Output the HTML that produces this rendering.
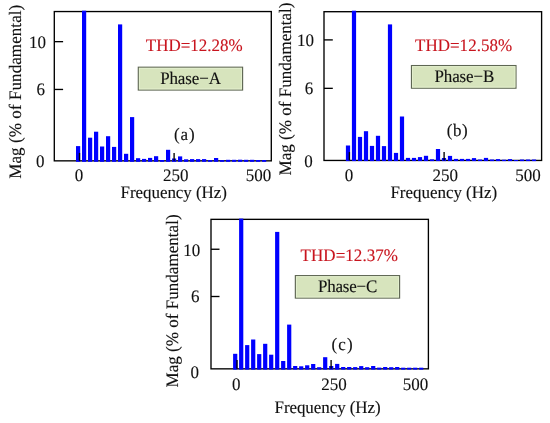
<!DOCTYPE html><html><head><meta charset="utf-8"><style>html,body{margin:0;padding:0;background:#fff;}svg{display:block;}text{font-family:"Liberation Serif", "Times New Roman", serif;font-size:17px;stroke-width:0.12px;text-rendering:geometricPrecision;}</style></head><body>
<svg width="550" height="423" viewBox="0 0 550 423">
<rect x="0" y="0" width="550" height="423" fill="#fff"/>
<rect x="54.3" y="11.55" width="217.00" height="149.30" fill="none" stroke="#000" stroke-width="1.35"/>
<rect x="76.00" y="146.10" width="4.2" height="15.70" fill="#0000ff"/>
<rect x="82.00" y="10.70" width="4.2" height="151.10" fill="#0000ff"/>
<rect x="88.00" y="137.70" width="4.2" height="24.10" fill="#0000ff"/>
<rect x="94.00" y="131.70" width="4.2" height="30.10" fill="#0000ff"/>
<rect x="100.00" y="146.50" width="4.2" height="15.30" fill="#0000ff"/>
<rect x="106.00" y="136.20" width="4.2" height="25.60" fill="#0000ff"/>
<rect x="112.00" y="146.90" width="4.2" height="14.90" fill="#0000ff"/>
<rect x="118.00" y="24.40" width="4.2" height="137.40" fill="#0000ff"/>
<rect x="124.00" y="153.80" width="4.2" height="8.00" fill="#0000ff"/>
<rect x="130.00" y="117.10" width="4.2" height="44.70" fill="#0000ff"/>
<rect x="136.00" y="158.20" width="4.2" height="3.60" fill="#0000ff"/>
<rect x="142.00" y="158.90" width="4.2" height="2.90" fill="#0000ff"/>
<rect x="148.00" y="157.90" width="4.2" height="3.90" fill="#0000ff"/>
<rect x="154.00" y="156.20" width="4.2" height="5.60" fill="#0000ff"/>
<rect x="160.00" y="160.00" width="4.2" height="1.80" fill="#0000ff"/>
<rect x="166.00" y="149.80" width="4.2" height="12.00" fill="#0000ff"/>
<rect x="172.00" y="158.50" width="4.2" height="3.30" fill="#0000ff"/>
<rect x="178.00" y="156.40" width="4.2" height="5.40" fill="#0000ff"/>
<rect x="184.00" y="159.30" width="4.2" height="2.50" fill="#0000ff"/>
<rect x="190.00" y="159.10" width="4.2" height="2.70" fill="#0000ff"/>
<rect x="196.00" y="159.10" width="4.2" height="2.70" fill="#0000ff"/>
<rect x="202.00" y="159.10" width="4.2" height="2.70" fill="#0000ff"/>
<rect x="208.00" y="160.10" width="4.2" height="1.70" fill="#0000ff"/>
<rect x="214.00" y="158.00" width="4.2" height="3.80" fill="#0000ff"/>
<rect x="220.00" y="160.10" width="4.2" height="1.70" fill="#0000ff"/>
<rect x="226.00" y="159.80" width="4.2" height="2.00" fill="#0000ff"/>
<rect x="232.00" y="159.80" width="4.2" height="2.00" fill="#0000ff"/>
<rect x="238.00" y="159.70" width="4.2" height="2.10" fill="#0000ff"/>
<rect x="244.00" y="159.80" width="4.2" height="2.00" fill="#0000ff"/>
<rect x="250.00" y="159.80" width="4.2" height="2.00" fill="#0000ff"/>
<rect x="256.00" y="160.00" width="4.2" height="1.80" fill="#0000ff"/>
<rect x="262.00" y="160.00" width="4.2" height="1.80" fill="#0000ff"/>
<line x1="54.3" y1="41.65" x2="63.10" y2="41.65" stroke="#000" stroke-width="1.35"/>
<line x1="54.3" y1="89.45" x2="63.10" y2="89.45" stroke="#000" stroke-width="1.35"/>
<line x1="79.5" y1="160.85" x2="79.5" y2="152.9" stroke="#000" stroke-width="1.35"/>
<line x1="174.1" y1="160.85" x2="174.1" y2="152.9" stroke="#000" stroke-width="1.35"/>
<rect x="324.0" y="11.7" width="217.60" height="148.75" fill="none" stroke="#000" stroke-width="1.35"/>
<rect x="345.90" y="145.50" width="4.2" height="15.60" fill="#0000ff"/>
<rect x="351.90" y="10.70" width="4.2" height="150.40" fill="#0000ff"/>
<rect x="357.90" y="136.90" width="4.2" height="24.20" fill="#0000ff"/>
<rect x="363.90" y="131.20" width="4.2" height="29.90" fill="#0000ff"/>
<rect x="369.90" y="145.90" width="4.2" height="15.20" fill="#0000ff"/>
<rect x="375.90" y="135.80" width="4.2" height="25.30" fill="#0000ff"/>
<rect x="381.90" y="146.10" width="4.2" height="15.00" fill="#0000ff"/>
<rect x="387.90" y="24.40" width="4.2" height="136.70" fill="#0000ff"/>
<rect x="393.90" y="152.90" width="4.2" height="8.20" fill="#0000ff"/>
<rect x="399.90" y="116.50" width="4.2" height="44.60" fill="#0000ff"/>
<rect x="405.90" y="157.90" width="4.2" height="3.20" fill="#0000ff"/>
<rect x="411.90" y="157.90" width="4.2" height="3.20" fill="#0000ff"/>
<rect x="417.90" y="157.10" width="4.2" height="4.00" fill="#0000ff"/>
<rect x="423.90" y="155.80" width="4.2" height="5.30" fill="#0000ff"/>
<rect x="429.90" y="159.30" width="4.2" height="1.80" fill="#0000ff"/>
<rect x="435.90" y="149.00" width="4.2" height="12.10" fill="#0000ff"/>
<rect x="441.90" y="158.00" width="4.2" height="3.10" fill="#0000ff"/>
<rect x="447.90" y="155.90" width="4.2" height="5.20" fill="#0000ff"/>
<rect x="453.90" y="158.90" width="4.2" height="2.20" fill="#0000ff"/>
<rect x="459.90" y="158.90" width="4.2" height="2.20" fill="#0000ff"/>
<rect x="465.90" y="158.90" width="4.2" height="2.20" fill="#0000ff"/>
<rect x="471.90" y="158.10" width="4.2" height="3.00" fill="#0000ff"/>
<rect x="477.90" y="159.50" width="4.2" height="1.60" fill="#0000ff"/>
<rect x="483.90" y="157.90" width="4.2" height="3.20" fill="#0000ff"/>
<rect x="489.90" y="159.50" width="4.2" height="1.60" fill="#0000ff"/>
<rect x="495.90" y="159.10" width="4.2" height="2.00" fill="#0000ff"/>
<rect x="501.90" y="159.70" width="4.2" height="1.40" fill="#0000ff"/>
<rect x="507.90" y="159.10" width="4.2" height="2.00" fill="#0000ff"/>
<rect x="513.90" y="160.00" width="4.2" height="1.10" fill="#0000ff"/>
<rect x="519.90" y="159.50" width="4.2" height="1.60" fill="#0000ff"/>
<rect x="525.90" y="159.50" width="4.2" height="1.60" fill="#0000ff"/>
<rect x="531.90" y="159.50" width="4.2" height="1.60" fill="#0000ff"/>
<line x1="324.0" y1="39.9" x2="332.80" y2="39.9" stroke="#000" stroke-width="1.35"/>
<line x1="324.0" y1="88.35" x2="332.80" y2="88.35" stroke="#000" stroke-width="1.35"/>
<line x1="349.4" y1="160.45" x2="349.4" y2="152.1" stroke="#000" stroke-width="1.35"/>
<line x1="444.1" y1="160.45" x2="444.1" y2="152.1" stroke="#000" stroke-width="1.35"/>
<rect x="211.0" y="219.35" width="217.40" height="149.50" fill="none" stroke="#000" stroke-width="1.35"/>
<rect x="233.10" y="353.80" width="4.2" height="15.80" fill="#0000ff"/>
<rect x="239.10" y="218.60" width="4.2" height="151.00" fill="#0000ff"/>
<rect x="245.10" y="345.10" width="4.2" height="24.50" fill="#0000ff"/>
<rect x="251.10" y="339.50" width="4.2" height="30.10" fill="#0000ff"/>
<rect x="257.10" y="354.10" width="4.2" height="15.50" fill="#0000ff"/>
<rect x="263.10" y="343.80" width="4.2" height="25.80" fill="#0000ff"/>
<rect x="269.10" y="354.70" width="4.2" height="14.90" fill="#0000ff"/>
<rect x="275.10" y="231.90" width="4.2" height="137.70" fill="#0000ff"/>
<rect x="281.10" y="361.00" width="4.2" height="8.60" fill="#0000ff"/>
<rect x="287.10" y="324.60" width="4.2" height="45.00" fill="#0000ff"/>
<rect x="293.10" y="366.00" width="4.2" height="3.60" fill="#0000ff"/>
<rect x="299.10" y="366.30" width="4.2" height="3.30" fill="#0000ff"/>
<rect x="305.10" y="365.30" width="4.2" height="4.30" fill="#0000ff"/>
<rect x="311.10" y="364.00" width="4.2" height="5.60" fill="#0000ff"/>
<rect x="317.10" y="367.20" width="4.2" height="2.40" fill="#0000ff"/>
<rect x="323.10" y="357.20" width="4.2" height="12.40" fill="#0000ff"/>
<rect x="329.10" y="366.00" width="4.2" height="3.60" fill="#0000ff"/>
<rect x="335.10" y="363.90" width="4.2" height="5.70" fill="#0000ff"/>
<rect x="341.10" y="367.00" width="4.2" height="2.60" fill="#0000ff"/>
<rect x="347.10" y="367.00" width="4.2" height="2.60" fill="#0000ff"/>
<rect x="353.10" y="367.10" width="4.2" height="2.50" fill="#0000ff"/>
<rect x="359.10" y="366.10" width="4.2" height="3.50" fill="#0000ff"/>
<rect x="365.10" y="367.20" width="4.2" height="2.40" fill="#0000ff"/>
<rect x="371.10" y="366.00" width="4.2" height="3.60" fill="#0000ff"/>
<rect x="377.10" y="367.60" width="4.2" height="2.00" fill="#0000ff"/>
<rect x="383.10" y="367.00" width="4.2" height="2.60" fill="#0000ff"/>
<rect x="389.10" y="367.20" width="4.2" height="2.40" fill="#0000ff"/>
<rect x="395.10" y="367.00" width="4.2" height="2.60" fill="#0000ff"/>
<rect x="401.10" y="367.70" width="4.2" height="1.90" fill="#0000ff"/>
<rect x="407.10" y="367.70" width="4.2" height="1.90" fill="#0000ff"/>
<rect x="413.10" y="367.70" width="4.2" height="1.90" fill="#0000ff"/>
<rect x="419.10" y="367.70" width="4.2" height="1.90" fill="#0000ff"/>
<line x1="211.0" y1="249.25" x2="219.50" y2="249.25" stroke="#000" stroke-width="1.35"/>
<line x1="211.0" y1="296.5" x2="219.50" y2="296.5" stroke="#000" stroke-width="1.35"/>
<line x1="237.0" y1="368.85" x2="237.0" y2="360.1" stroke="#000" stroke-width="1.35"/>
<line x1="331.1" y1="368.85" x2="331.1" y2="360.1" stroke="#000" stroke-width="1.35"/>
<rect x="138.3" y="67.2" width="104.30" height="22.85" fill="#d7e4bd" stroke="#5e6653" stroke-width="1.15"/>
<rect x="139.40" y="68.30" width="102.10" height="20.65" fill="none" stroke="#e4f0cf" stroke-width="0.9"/>
<rect x="411.45" y="65.55" width="104.55" height="22.65" fill="#d7e4bd" stroke="#5e6653" stroke-width="1.15"/>
<rect x="412.55" y="66.65" width="102.35" height="20.45" fill="none" stroke="#e4f0cf" stroke-width="0.9"/>
<rect x="295.35" y="275.6" width="104.25" height="22.50" fill="#d7e4bd" stroke="#5e6653" stroke-width="1.15"/>
<rect x="296.45" y="276.70" width="102.05" height="20.30" fill="none" stroke="#e4f0cf" stroke-width="0.9"/>
<text transform="translate(45.9,48.15) scale(1,1.03)" text-anchor="end" fill="#111" stroke="#111">10</text>
<text transform="translate(44.95,95.45) scale(1,1.03)" text-anchor="end" fill="#111" stroke="#111">6</text>
<text transform="translate(44.55,166.75) scale(1,1.03)" text-anchor="end" fill="#111" stroke="#111">0</text>
<text transform="translate(78.9,181.3) scale(1,1.03)" text-anchor="middle" fill="#111" stroke="#111">0</text>
<text transform="translate(175.8,181.2) scale(1,1.03)" text-anchor="middle" fill="#111" stroke="#111">250</text>
<text transform="translate(258.5,181.4) scale(1,1.03)" text-anchor="middle" fill="#111" stroke="#111">500</text>
<text transform="translate(120.6,197.95) scale(1,1.03)" fill="#111" stroke="#111" textLength="106.36" lengthAdjust="spacing">Frequency (Hz)</text>
<text transform="translate(21.0,178.7) rotate(-90) scale(1,1.03)" fill="#111" stroke="#111" textLength="173.93" lengthAdjust="spacing">Mag (% of Fundamental)</text>
<text transform="translate(145.75,51.0) scale(1,1.03)" fill="#c8141e" stroke="#c8141e" textLength="97.04" lengthAdjust="spacing">THD=12.28%</text>
<text transform="translate(160.15,83.9) scale(1,1.03)" fill="#111" stroke="#111" textLength="60.83" lengthAdjust="spacing">Phase−A</text>
<text transform="translate(173.9,139.7) scale(1,1.03)" fill="#111" stroke="#111" textLength="20.68" lengthAdjust="spacing">(a)</text>
<text transform="translate(314.1,45.7) scale(1,1.03)" text-anchor="end" fill="#111" stroke="#111">10</text>
<text transform="translate(313.3,94.2) scale(1,1.03)" text-anchor="end" fill="#111" stroke="#111">6</text>
<text transform="translate(312.85,166.8) scale(1,1.03)" text-anchor="end" fill="#111" stroke="#111">0</text>
<text transform="translate(348.9,181.25) scale(1,1.03)" text-anchor="middle" fill="#111" stroke="#111">0</text>
<text transform="translate(445.25,181.25) scale(1,1.03)" text-anchor="middle" fill="#111" stroke="#111">250</text>
<text transform="translate(528.1,181.4) scale(1,1.03)" text-anchor="middle" fill="#111" stroke="#111">500</text>
<text transform="translate(390.45,197.95) scale(1,1.03)" fill="#111" stroke="#111" textLength="106.66" lengthAdjust="spacing">Frequency (Hz)</text>
<text transform="translate(291.3,175.4) rotate(-90) scale(1,1.03)" fill="#111" stroke="#111" textLength="172.93" lengthAdjust="spacing">Mag (% of Fundamental)</text>
<text transform="translate(415.0,51.0) scale(1,1.03)" fill="#c8141e" stroke="#c8141e" textLength="97.14" lengthAdjust="spacing">THD=12.58%</text>
<text transform="translate(434.55,81.95) scale(1,1.03)" fill="#111" stroke="#111" textLength="59.69" lengthAdjust="spacing">Phase−B</text>
<text transform="translate(446.7,135.55) scale(1,1.03)" fill="#111" stroke="#111" textLength="21.03" lengthAdjust="spacing">(b)</text>
<text transform="translate(200.3,256.2) scale(1,1.03)" text-anchor="end" fill="#111" stroke="#111">10</text>
<text transform="translate(199.55,302.2) scale(1,1.03)" text-anchor="end" fill="#111" stroke="#111">6</text>
<text transform="translate(199.1,377.5) scale(1,1.03)" text-anchor="end" fill="#111" stroke="#111">0</text>
<text transform="translate(236.2,390.05) scale(1,1.03)" text-anchor="middle" fill="#111" stroke="#111">0</text>
<text transform="translate(334.0,390.2) scale(1,1.03)" text-anchor="middle" fill="#111" stroke="#111">250</text>
<text transform="translate(415.6,390.2) scale(1,1.03)" text-anchor="middle" fill="#111" stroke="#111">500</text>
<text transform="translate(274.5,412.75) scale(1,1.03)" fill="#111" stroke="#111" textLength="106.16" lengthAdjust="spacing">Frequency (Hz)</text>
<text transform="translate(177.95,387.45) rotate(-90) scale(1,1.03)" fill="#111" stroke="#111" textLength="173.03" lengthAdjust="spacing">Mag (% of Fundamental)</text>
<text transform="translate(300.5,261.15) scale(1,1.03)" fill="#c8141e" stroke="#c8141e" textLength="97.54" lengthAdjust="spacing">THD=12.37%</text>
<text transform="translate(317.95,292.25) scale(1,1.03)" fill="#111" stroke="#111" textLength="59.29" lengthAdjust="spacing">Phase−C</text>
<text transform="translate(331.6,350.1) scale(1,1.03)" fill="#111" stroke="#111" textLength="21.07" lengthAdjust="spacing">(c)</text>
</svg></body></html>
